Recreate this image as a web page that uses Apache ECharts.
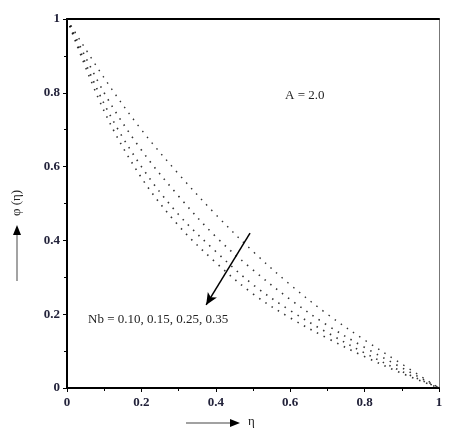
<!DOCTYPE html>
<html><head><meta charset="utf-8">
<script src="https://cdn.jsdelivr.net/npm/echarts@6/dist/echarts.min.js"></script>
<style>html,body{margin:0;padding:0;background:#fff}#c{width:474px;height:448px}</style>
</head><body><div id="c"></div>
<script>
const eta = [0, 0.1, 0.2, 0.3, 0.4, 0.5, 0.6, 0.7, 0.8, 0.9, 1.0];
const phiNb010 = [1, 0.84, 0.70, 0.58, 0.47, 0.37, 0.28, 0.20, 0.13, 0.065, 0];
const phiNb015 = [1, 0.80, 0.645, 0.52, 0.41, 0.32, 0.24, 0.17, 0.11, 0.055, 0];
const phiNb025 = [1, 0.77, 0.60, 0.47, 0.37, 0.28, 0.21, 0.15, 0.095, 0.045, 0];
const phiNb035 = [1, 0.75, 0.57, 0.44, 0.34, 0.255, 0.19, 0.135, 0.085, 0.04, 0];
const seriesNames = ['Nb = 0.10', 'Nb = 0.15', 'Nb = 0.25', 'Nb = 0.35'];
const seriesData = [phiNb010, phiNb015, phiNb025, phiNb035];
const arrowFrom = [0.492, 0.42];
const arrowTo = [0.374, 0.225];

const serif = '"Liberation Serif", "DejaVu Serif", serif';
const tickColor = '#22223a';
const chart = echarts.init(document.getElementById('c'), null, {renderer: 'canvas'});

const series = seriesData.map((d, i) => ({
  name: seriesNames[i],
  type: 'line',
  xAxisIndex: 0, yAxisIndex: 0,
  data: eta.map((x, j) => [x, d[j]]),
  smooth: 0.35,
  showSymbol: false,
  lineStyle: {color: '#111', width: i === 0 ? 1.4 : 1.6, type: [1.5, 6], opacity: 0.85},
  z: 3
}));
series[0].markLine = {
  silent: true,
  symbol: ['none', 'arrow'],
  symbolSize: [8, 12],
  label: {show: false},
  lineStyle: {color: '#000', width: 1.5, type: 'solid'},
  data: [[{coord: arrowFrom}, {coord: arrowTo}]]
};

const labelFmt = v => (Math.abs(v) < 1e-9 ? '0' : Math.abs(v - 1) < 1e-9 ? '1' : v.toFixed(1));

chart.setOption({
  animation: false,
  backgroundColor: '#fff',
  grid: {left: 67, right: 35, top: 19, bottom: 60},
  xAxis: [{
    type: 'value', min: 0, max: 1, interval: 0.2, position: 'bottom',
    axisLine: {show: true, onZero: false, lineStyle: {color: '#000', width: 2}},
    axisTick: {show: true, length: 4, inside: false, lineStyle: {color: '#000', width: 1}},
    minorTick: {show: true, splitNumber: 2, length: 3, lineStyle: {color: '#000', width: 1}},
    splitLine: {show: false},
    axisLabel: {formatter: labelFmt, fontFamily: serif, fontWeight: 'bold', fontSize: 13, color: tickColor, margin: 8}
  }, {
    type: 'value', min: 0, max: 1, position: 'top',
    axisLine: {show: true, onZero: false, lineStyle: {color: '#000', width: 2}},
    axisTick: {show: false}, axisLabel: {show: false}, splitLine: {show: false}
  }],
  yAxis: [{
    type: 'value', min: 0, max: 1, interval: 0.2, position: 'left',
    axisLine: {show: true, onZero: false, lineStyle: {color: '#000', width: 2}},
    axisTick: {show: true, length: 4, inside: false, lineStyle: {color: '#000', width: 1}},
    minorTick: {show: true, splitNumber: 2, length: 3, lineStyle: {color: '#000', width: 1}},
    splitLine: {show: false},
    axisLabel: {formatter: labelFmt, fontFamily: serif, fontWeight: 'bold', fontSize: 13, color: tickColor, margin: 7}
  }, {
    type: 'value', min: 0, max: 1, position: 'right',
    axisLine: {show: true, onZero: false, lineStyle: {color: '#777', width: 1}},
    axisTick: {show: false}, axisLabel: {show: false}, splitLine: {show: false}
  }],
  graphic: [
    {type: 'text', left: 285, top: 89, style: {text: 'A = 2.0', font: '13px ' + serif, fill: '#222'}},
    {type: 'text', left: 88, top: 313, style: {text: 'Nb = 0.10, 0.15, 0.25, 0.35', font: '13px ' + serif, fill: '#222'}},
    {type: 'line', shape: {x1: 186, y1: 423, x2: 232, y2: 423}, style: {stroke: '#444', lineWidth: 1.2}},
    {type: 'polygon', shape: {points: [[230, 419], [240, 423], [230, 427]]}, style: {fill: '#000'}},
    {type: 'text', left: 248, top: 415, style: {text: 'η', font: '13px ' + serif, fill: '#222'}},
    {type: 'line', shape: {x1: 17, y1: 281, x2: 17, y2: 234}, style: {stroke: '#666', lineWidth: 1.2}},
    {type: 'polygon', shape: {points: [[13, 235], [17, 225], [21, 235]]}, style: {fill: '#000'}},
    {type: 'text', x: 17, y: 203, rotation: Math.PI / 2, style: {text: 'φ (η)', font: '13px ' + serif, fill: '#222', align: 'center', verticalAlign: 'middle'}}
  ],
  series: series
});
</script></body></html>
